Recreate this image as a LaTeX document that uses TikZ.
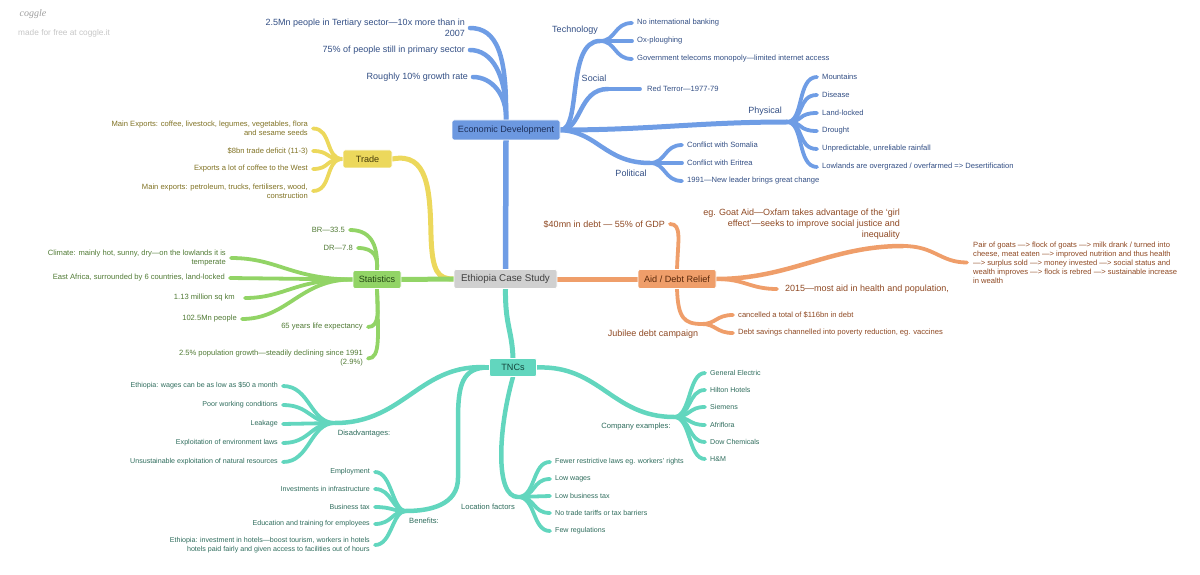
\documentclass[tikz,border=0pt]{standalone}
\usepackage{fontspec}
\setmainfont{Liberation Sans}
\newfontfamily\logofont{Liberation Serif}
\usetikzlibrary{positioning, calc, backgrounds}

\definecolor{edblue}{RGB}{111,157,229}
\definecolor{edtext}{RGB}{50,78,132}
\definecolor{edbox}{RGB}{108,152,224}
\definecolor{edboxtext}{RGB}{30,48,90}
\definecolor{tryel}{RGB}{236,216,92}
\definecolor{trtext}{RGB}{128,114,36}
\definecolor{trboxtext}{RGB}{70,60,10}
\definecolor{stgreen}{RGB}{146,212,102}
\definecolor{sttext}{RGB}{80,122,52}
\definecolor{stboxtext}{RGB}{35,70,20}
\definecolor{aiorange}{RGB}{239,158,106}
\definecolor{aitext}{RGB}{142,72,34}
\definecolor{aiboxtext}{RGB}{90,40,10}
\definecolor{tnteal}{RGB}{98,214,190}
\definecolor{tntext}{RGB}{46,108,92}
\definecolor{tnboxtext}{RGB}{20,70,60}
\definecolor{cgray}{RGB}{208,208,208}
\definecolor{cgtext}{RGB}{64,64,64}

\begin{document}
\begin{tikzpicture}[
    x=1pt, y=-1pt,
    mbox/.style={rectangle, rounded corners=2pt, draw=white, line width=0.8pt,
                 font=\fontsize{9.1}{11}\selectfont, inner sep=0pt},
    lbl/.style={font=\fontsize{9}{11}\selectfont, inner xsep=5pt, inner ysep=1pt},
    lf/.style={font=\fontsize{7.6}{9}\selectfont, inner xsep=5pt, inner ysep=1pt},
    elbl/.style={lbl, text=edtext}, elf/.style={lf, text=edtext},
    ylf/.style={lf, text=trtext},
    glf/.style={lf, text=sttext},
    olbl/.style={lbl, text=aitext}, olf/.style={lf, text=aitext},
    tlf/.style={lf, text=tntext},
    tleaf/.style={tlf, font=\fontsize{7.1}{8.5}\selectfont},
    bb/.style={draw=edblue, line cap=round, line width=#1}, bb/.default=3.8pt,
    yb/.style={draw=tryel, line cap=round, line width=#1}, yb/.default=3.8pt,
    gb/.style={draw=stgreen, line cap=round, line width=#1}, gb/.default=3.8pt,
    ob/.style={draw=aiorange, line cap=round, line width=#1}, ob/.default=3.8pt,
    tb/.style={draw=tnteal, line cap=round, line width=#1}, tb/.default=3.8pt
  ]
    \useasboundingbox (0,0) rectangle (1200,575);

    % Watermark
    \node[text=gray!75, font=\logofont\itshape\fontsize{10}{12}\selectfont] (logo) at (33,14) {coggle};
    \node[text=gray!45, font=\fontsize{8.3}{9}\selectfont, anchor=west, inner sep=0pt] (made) at (18,33) {made for free at coggle.it};

    % Main boxes
    \node[mbox, fill=cgray, text=cgtext, minimum width=103pt, minimum height=19pt, font=\fontsize{9.8}{11}\selectfont] (eth) at (505.5,279) {Ethiopia Case Study};
    \node[mbox, fill=edbox, text=edboxtext, minimum width=108pt, minimum height=20pt] (ed) at (506,130) {Economic Development};
    \node[mbox, fill=tryel, text=trboxtext, minimum width=49pt, minimum height=18pt] (trade) at (367.5,159) {Trade};
    \node[mbox, fill=stgreen, text=stboxtext, minimum width=48pt, minimum height=18pt] (stats) at (377,279.5) {Statistics};
    \node[mbox, fill=aiorange, text=aiboxtext, minimum width=78pt, minimum height=19pt] (aid) at (677,279) {Aid / Debt Relief};
    \node[mbox, fill=tnteal, text=tnboxtext, minimum width=47pt, minimum height=18pt] (tnc) at (513,367.5) {TNCs};

    % Economic development
    \node[elbl, anchor=east, align=right] (e1) at (470,28) {2.5Mn people in Tertiary sector---10x more than in\\2007};
    \node[elbl, anchor=east] (e2) at (470,50) {75\% of people still in primary sector};
    \node[elbl, anchor=east] (e3) at (473,77) {Roughly 10\% growth rate};

    \coordinate (tecj) at (600,41);
    \node[elbl, inner sep=0pt] (tec) at (575,30) {Technology};
    \node[elf, anchor=west] (t1) at (632,23) {No international banking};
    \node[elf, anchor=west] (t2) at (632,41) {Ox-ploughing};
    \node[elf, anchor=west] (t3) at (632,59) {Government telecoms monopoly---limited internet access};

    \coordinate (socj) at (608,89);
    \node[elbl, inner sep=0pt] (soc) at (594,78) {Social};
    \node[elf, anchor=west, inner xsep=7pt] (s1) at (640,89) {Red Terror---1977-79};

    \coordinate (phyj) at (787,122);
    \node[elbl, inner sep=0pt] (phy) at (765,111) {Physical};
    \node[elf, anchor=west] (p1) at (817,77) {Mountains};
    \node[elf, anchor=west] (p2) at (817,95) {Disease};
    \node[elf, anchor=west] (p3) at (817,113) {Land-locked};
    \node[elf, anchor=west] (p4) at (817,131) {Drought};
    \node[elf, anchor=west] (p5) at (817,149) {Unpredictable, unreliable rainfall};
    \node[elf, anchor=west] (p6) at (817,167) {Lowlands are overgrazed / overfarmed => Desertification};

    \coordinate (polj) at (650,163);
    \node[elbl, inner sep=0pt] (pol) at (631,173) {Political};
    \node[elf, anchor=west] (o1) at (682,145) {Conflict with Somalia};
    \node[elf, anchor=west] (o2) at (682,163) {Conflict with Eritrea};
    \node[elf, anchor=west] (o3) at (682,181) {1991---New leader brings great change};

    % Trade
    \node[ylf, anchor=east, align=right] (y1) at (313,128.5) {Main Exports: coffee, livestock, legumes, vegetables, flora\\and sesame seeds};
    \node[ylf, anchor=east] (y2) at (313,151) {\$8bn trade deficit (11-3)};
    \node[ylf, anchor=east] (y3) at (313,169) {Exports a lot of coffee to the West};
    \node[ylf, anchor=east, align=right] (y4) at (313,191) {Main exports: petroleum, trucks, fertilisers, wood,\\construction};

    % Statistics
    \node[glf, anchor=east] (g1) at (350,230) {BR---33.5};
    \node[glf, anchor=east] (g2) at (358,248) {DR---7.8};
    \node[glf, anchor=east, align=right] (g3) at (231,258) {Climate: mainly hot, sunny, dry---on the lowlands it is\\temperate};
    \node[glf, anchor=east] (g4) at (230,278) {East Africa, surrounded by 6 countries, land-locked};
    \node[glf, anchor=east, inner xsep=10pt] (g5) at (245,298) {1.13 million sq km};
    \node[glf, anchor=east] (g6) at (242,319) {102.5Mn people};
    \node[glf, anchor=east] (g7) at (368,327) {65 years life expectancy};
    \node[glf, anchor=east, align=right] (g8) at (368,358.5) {2.5\% population growth---steadily declining since 1991\\(2.9\%)};

    % Aid / debt relief
    \node[olbl, anchor=east] (a1) at (670,224) {\$40mn in debt --- 55\% of GDP};
    \coordinate (goatj) at (903,246);
    \node[olbl, anchor=east, align=right, inner sep=0pt] (goat) at (900,224) {eg. Goat Aid---Oxfam takes advantage of the `girl\\effect'---seeks to improve social justice and\\inequality};
    \node[olf, anchor=west, align=left, inner xsep=6pt] (pair) at (967,262.5) {Pair of goats ---> flock of goats ---> milk drank / turned into\\cheese, meat eaten ---> improved nutrition and thus health\\---> surplus sold ---> money invested ---> social status and\\wealth improves ---> flock is rebred ---> sustainable increase\\in wealth};
    \node[olbl, anchor=west, inner xsep=8pt] (a2) at (777,289) {2015---most aid in health and population,};
    \coordinate (jubj) at (702,324);
    \node[olbl, inner sep=0pt] (jub) at (653,334) {Jubilee debt campaign};
    \node[olf, anchor=west] (a3) at (733,315) {cancelled a total of \$116bn in debt};
    \node[olf, anchor=west] (a4) at (733,333) {Debt savings channelled into poverty reduction, eg. vaccines};

    % TNCs
    \coordinate (compj) at (674,417);
    \node[tlf, inner sep=0pt] (comp) at (636,427) {Company examples:};
    \node[tleaf, anchor=west] (c1) at (705,373) {General Electric};
    \node[tleaf, anchor=west] (c2) at (705,390) {Hilton Hotels};
    \node[tleaf, anchor=west] (c3) at (705,407) {Siemens};
    \node[tleaf, anchor=west] (c4) at (705,425) {Afriflora};
    \node[tleaf, anchor=west] (c5) at (705,442) {Dow Chemicals};
    \node[tleaf, anchor=west] (c6) at (705,459) {H\&M};

    \coordinate (locj) at (518,497);
    \node[tlf, inner sep=0pt] (loc) at (488,507) {Location factors};
    \node[tleaf, anchor=west] (l1) at (550,462) {Fewer restrictive laws eg. workers' rights};
    \node[tleaf, anchor=west] (l2) at (550,479) {Low wages};
    \node[tleaf, anchor=west] (l3) at (550,496) {Low business tax};
    \node[tleaf, anchor=west] (l4) at (550,513) {No trade tariffs or tax barriers};
    \node[tleaf, anchor=west] (l5) at (550,531) {Few regulations};

    \coordinate (disj) at (335,423);
    \node[tlf, inner sep=0pt] (dis) at (364,434) {Disadvantages:};
    \node[tleaf, anchor=east] (d1) at (283,386) {Ethiopia: wages can be as low as \$50 a month};
    \node[tleaf, anchor=east] (d2) at (283,405) {Poor working conditions};
    \node[tleaf, anchor=east] (d3) at (283,424) {Leakage};
    \node[tleaf, anchor=east] (d4) at (283,443) {Exploitation of environment laws};
    \node[tleaf, anchor=east] (d5) at (283,462) {Unsustainable exploitation of natural resources};

    \coordinate (benj) at (406,511);
    \node[tlf, inner sep=0pt] (ben) at (424,521) {Benefits:};
    \node[tleaf, anchor=east] (b1) at (375,472) {Employment};
    \node[tleaf, anchor=east] (b2) at (375,489) {Investments in infrastructure};
    \node[tleaf, anchor=east] (b3) at (375,507) {Business tax};
    \node[tleaf, anchor=east] (b4) at (375,524) {Education and training for employees};
    \node[tleaf, anchor=east, align=right] (b5) at (375,545) {Ethiopia: investment in hotels---boost tourism, workers in hotels\\hotels paid fairly and given access to facilities out of hours};

    % Branches
    \begin{scope}[on background layer]
    \draw[bb=5.5pt] (eth.north) -- (ed.south);
    \draw[bb=4.5pt] (ed.north) .. controls (507,55) and (497,28) .. (e1.east);
    \draw[bb=4.5pt] (ed.north) .. controls (507,75) and (492,50) .. (e2.east);
    \draw[bb=4.5pt] (ed.north) .. controls (507,95) and (492,77) .. (e3.east);
    \draw[bb=4.5pt] (ed.east) .. controls (582,130) and (566,41) .. (tecj);
    \draw[bb] (tecj) .. controls (616,41) and (614,23) .. (t1.west);
    \draw[bb] (tecj) -- (t2.west);
    \draw[bb] (tecj) .. controls (616,41) and (614,59) .. (t3.west);
    \draw[bb=4.5pt] (ed.east) .. controls (582,130) and (578,89) .. (socj);
    \draw[bb] (socj) -- (s1.west);
    \draw[bb=5pt] (ed.east) .. controls (650,130) and (700,122) .. (phyj);
    \draw[bb] (phyj) .. controls (804,122) and (797,77) .. (p1.west);
    \draw[bb] (phyj) .. controls (804,122) and (797,95) .. (p2.west);
    \draw[bb] (phyj) .. controls (804,122) and (797,113) .. (p3.west);
    \draw[bb] (phyj) .. controls (804,122) and (797,131) .. (p4.west);
    \draw[bb] (phyj) .. controls (804,122) and (797,149) .. (p5.west);
    \draw[bb] (phyj) .. controls (804,122) and (797,167) .. (p6.west);
    \draw[bb=4.5pt] (ed.east) .. controls (598,132) and (605,163) .. (polj);
    \draw[bb] (polj) .. controls (666,163) and (664,145) .. (o1.west);
    \draw[bb] (polj) -- (o2.west);
    \draw[bb] (polj) .. controls (666,163) and (664,181) .. (o3.west);

    \draw[yb=5pt] (trade.east) .. controls (428,152) and (430,190) .. (431,235)
                  .. controls (432,272) and (438,279) .. (eth.west);
    \draw[yb] (trade.west) .. controls (325,159) and (332,128.5) .. (y1.east);
    \draw[yb] (trade.west) .. controls (325,159) and (330,151) .. (y2.east);
    \draw[yb] (trade.west) .. controls (325,159) and (330,169) .. (y3.east);
    \draw[yb] (trade.west) .. controls (325,159) and (332,191) .. (y4.east);

    \draw[gb=5pt] (eth.west) -- (stats.east);
    \draw[gb] (stats.north) .. controls (378,248) and (373,230) .. (g1.east);
    \draw[gb] (stats.north) .. controls (378,258) and (375,248) .. (g2.east);
    \draw[gb] (stats.west) .. controls (290,279) and (278,258) .. (g3.east);
    \draw[gb] (stats.west) -- (g4.east);
    \draw[gb] (stats.west) .. controls (295,279) and (285,298) .. (g5.east);
    \draw[gb] (stats.west) .. controls (300,279) and (288,319) .. (g6.east);
    \draw[gb] (stats.south) .. controls (378,310) and (380,327) .. (g7.east);
    \draw[gb] (stats.south) .. controls (378,335) and (381,358.5) .. (g8.east);

    \draw[ob=5pt] (eth.east) -- (aid.west);
    \draw[ob] (aid.north) .. controls (678,240) and (682,224) .. (a1.east);
    \draw[ob=4.5pt] (aid.east) .. controls (790,279) and (830,246) .. (goatj);
    \draw[ob] (goatj) .. controls (935,246) and (940,262.5) .. (pair.west);
    \draw[ob] (aid.east) .. controls (745,279) and (750,289) .. (a2.west);
    \draw[ob] (aid.south) .. controls (678,318) and (684,324) .. (jubj);
    \draw[ob] (jubj) .. controls (716,324) and (716,315) .. (a3.west);
    \draw[ob] (jubj) .. controls (716,324) and (716,333) .. (a4.west);

    \draw[tb=5pt] (eth.south) .. controls (505,325) and (512,330) .. (tnc.north);
    \draw[tb=4.5pt] (tnc.east) .. controls (600,365) and (612,417) .. (compj);
    \draw[tb] (compj) .. controls (691,417) and (688,373) .. (c1.west);
    \draw[tb] (compj) .. controls (691,417) and (688,390) .. (c2.west);
    \draw[tb] (compj) .. controls (691,417) and (688,407) .. (c3.west);
    \draw[tb] (compj) .. controls (691,417) and (688,425) .. (c4.west);
    \draw[tb] (compj) .. controls (691,417) and (688,442) .. (c5.west);
    \draw[tb] (compj) .. controls (691,417) and (688,459) .. (c6.west);
    \draw[tb=4.5pt] (tnc.south) .. controls (498,430) and (495,497) .. (locj);
    \draw[tb] (locj) .. controls (536,497) and (532,462) .. (l1.west);
    \draw[tb] (locj) .. controls (536,497) and (532,479) .. (l2.west);
    \draw[tb] (locj) -- (l3.west);
    \draw[tb] (locj) .. controls (536,497) and (532,513) .. (l4.west);
    \draw[tb] (locj) .. controls (536,497) and (532,531) .. (l5.west);
    \draw[tb=4.5pt] (tnc.west) .. controls (420,362) and (405,423) .. (disj);
    \draw[tb] (disj) .. controls (310,423) and (310,386) .. (d1.east);
    \draw[tb] (disj) .. controls (310,423) and (310,405) .. (d2.east);
    \draw[tb] (disj) -- (d3.east);
    \draw[tb] (disj) .. controls (310,423) and (310,443) .. (d4.east);
    \draw[tb] (disj) .. controls (310,423) and (310,462) .. (d5.east);
    \draw[tb=4.5pt] (tnc.west) .. controls (462,367) and (458,385) .. (458,420)
                   -- (458,478) .. controls (458,505) and (430,511) .. (benj);
    \draw[tb] (benj) .. controls (392,511) and (392,472) .. (b1.east);
    \draw[tb] (benj) .. controls (392,511) and (392,489) .. (b2.east);
    \draw[tb] (benj) .. controls (392,511) and (392,507) .. (b3.east);
    \draw[tb] (benj) .. controls (392,511) and (392,524) .. (b4.east);
    \draw[tb] (benj) .. controls (392,511) and (392,545) .. (b5.east);
    \end{scope}
\end{tikzpicture}
\end{document}
